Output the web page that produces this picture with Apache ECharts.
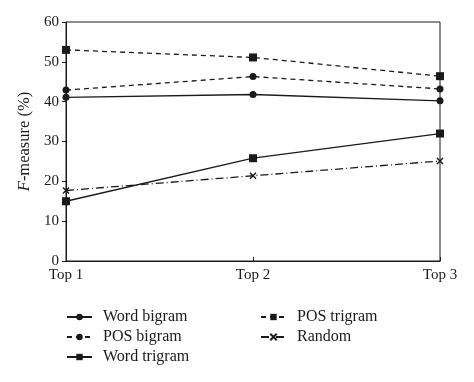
<!DOCTYPE html>
<html><head><meta charset="utf-8">
<script src="https://cdn.jsdelivr.net/npm/echarts@6/dist/echarts.min.js"></script>
<style>html,body{margin:0;padding:0;background:#fff}#c{width:474px;height:382px}</style>
</head><body><div id="c"></div>
<script>
const categories = ['Top 1', 'Top 2', 'Top 3'];
const wordBigram = [41.1, 41.8, 40.2];
const posBigram = [42.9, 46.3, 43.2];
const posTrigram = [53.0, 51.1, 46.4];
const wordTrigram = [15.0, 25.8, 32.0];
const randomVals = [17.7, 21.4, 25.1];
const yTicks = [0, 10, 20, 30, 40, 50, 60];

const ink = '#1a1a1a';
const font = 'Liberation Serif';
const xPath = 'path://M0,0L10,10M10,0L0,10';

function mk(name, data, type, symbol, size) {
  return {
    name, type: 'line', data, symbol, symbolSize: size,
    lineStyle: { color: ink, width: 1.3, type },
    itemStyle: symbol === xPath ? { color: 'none', borderColor: ink, borderWidth: 1.5 } : { color: ink },
    emphasis: { disabled: true }, animation: false
  };
}
const legendText = { color: ink, fontFamily: font, fontSize: 16, padding: [0, 0, 0, 6] };
const chart = echarts.init(document.getElementById('c'));
chart.setOption({
  animation: false,
  grid: { left: 66, right: 34, top: 22, bottom: 121, show: true, borderColor: ink, borderWidth: 1 },
  xAxis: {
    type: 'category', data: categories, boundaryGap: false,
    axisLine: { lineStyle: { color: ink } },
    axisTick: { inside: true, length: 4, lineStyle: { color: ink } },
    axisLabel: { color: ink, fontFamily: font, fontSize: 15, margin: 7 }
  },
  yAxis: {
    type: 'value', min: yTicks[0], max: yTicks[yTicks.length - 1], interval: 10,
    splitLine: { show: false },
    axisLine: { show: true, lineStyle: { color: ink } },
    axisTick: { show: true, length: 4, lineStyle: { color: ink } },
    axisLabel: { color: ink, fontFamily: font, fontSize: 15, margin: 7 },
    name: '{i|F}-measure (%)', nameLocation: 'middle', nameGap: 30, nameRotate: 90,
    nameTextStyle: { color: ink, fontFamily: font, fontSize: 16.5,
      rich: { i: { fontStyle: 'italic', fontFamily: font, fontSize: 16.5, color: ink } } }
  },
  legend: [
    { data: ['Word bigram', 'POS bigram', 'Word trigram'], orient: 'vertical', left: 66, top: 309,
      padding: 0, itemWidth: 25, itemHeight: 8, itemGap: 4, textStyle: legendText },
    { data: ['POS trigram', 'Random'], orient: 'vertical', left: 260, top: 309,
      padding: 0, itemWidth: 25, itemHeight: 8, itemGap: 4, textStyle: legendText }
  ],
  series: [
    mk('Word bigram', wordBigram, 'solid', 'circle', 7),
    mk('POS bigram', posBigram, [5, 4], 'circle', 7),
    mk('Word trigram', wordTrigram, 'solid', 'rect', 8),
    mk('POS trigram', posTrigram, [5, 4], 'rect', 8),
    mk('Random', randomVals, [8, 3, 1, 3], xPath, 6)
  ]
});
</script></body></html>
